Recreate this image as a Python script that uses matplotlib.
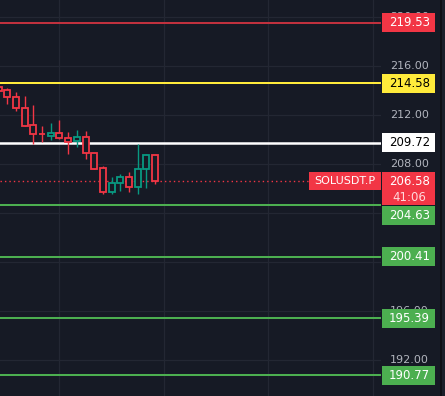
import matplotlib
matplotlib.use("Agg")
import matplotlib.pyplot as plt
from matplotlib.patches import Rectangle

# ---------------- data ----------------
opens = [214.26, 214.02, 213.44, 212.55, 211.16, 210.47, 210.31, 210.53, 210.10, 209.85,
         210.18, 208.87, 207.65, 205.74, 206.42, 206.91, 206.10, 207.57, 208.71]
closes = [213.98, 213.44, 212.55, 211.13, 210.42, 210.43, 210.53, 210.10, 209.82, 210.18,
          208.87, 207.62, 205.74, 206.42, 206.91, 206.10, 207.57, 208.71, 206.58]
highs = [214.40, 214.18, 213.88, 213.55, 212.82, 211.08, 211.37, 211.59, 210.61, 210.78,
         210.69, 208.87, 207.84, 206.91, 207.18, 207.32, 209.63, 208.82, 208.71]
lows = [213.90, 212.92, 212.35, 211.13, 209.63, 209.82, 209.96, 210.07, 208.84, 209.41,
        208.43, 207.62, 205.53, 205.53, 205.82, 205.71, 205.58, 206.02, 206.39]

levels = [219.53, 214.58, 209.72, 204.63, 200.41, 195.39, 190.77]
level_kinds = ["resist", "yellow", "white", "support", "support", "support", "support"]
grid_prices = [220, 216, 212, 208, 204, 200, 196, 192]
price_tick_labels = [220, 216, 212, 208, 196, 192]   # 204 and 200 are hidden behind level boxes
current_price = 206.58
symbol = "SOLUSDT.P"
countdown = "41:06"

# ---------------- style ----------------
BG = "#161a25"
GRID = "#232733"
UP = "#089981"
DOWN = "#f23645"
LINE_COL = {"resist": "#c0313e", "yellow": "#ffeb3b", "white": "#ffffff", "support": "#4caf50"}
BOX_COL = {"resist": "#f23645", "yellow": "#ffeb3b", "white": "#ffffff", "support": "#4caf50"}
TXT_COL = {"resist": "white", "yellow": "black", "white": "black", "support": "white"}
LINE_W = {"resist": 1.45, "yellow": 1.45, "white": 1.8, "support": 1.45}

W, H = 445, 396
PLOT_W = 381
BAR_PX = 8.7
X0 = 0.161
PX_PER_UNIT = 12.25
Y_TOP = 216 + 66 / PX_PER_UNIT
Y_BOT = 216 - (H - 66) / PX_PER_UNIT

fig = plt.figure(figsize=(W / 100, H / 100), dpi=100, facecolor=BG)
ax = fig.add_axes([0, 0, PLOT_W / W, 1])
ax.set_facecolor(BG)
ax.set_xlim(X0, X0 + PLOT_W / BAR_PX)
ax.set_ylim(Y_BOT, Y_TOP)
ax.set_xticks([7, 19, 31, 43])
ax.set_yticks(grid_prices)
ax.grid(True, color=GRID, lw=0.9)
ax.tick_params(length=0, labelbottom=False, labelleft=False)
for s in ax.spines.values():
    s.set_visible(False)

# candles
bw = 6 / BAR_PX
for i, (o, h, l, c) in enumerate(zip(opens, highs, lows, closes)):
    col = UP if c > o else DOWN
    ax.vlines(i, l, h, color=col, lw=1.0, zorder=3)
    lo, hi = min(o, c), max(o, c)
    ax.add_patch(Rectangle((i - bw / 2, lo), bw, max(hi - lo, 0.01), facecolor=BG,
                           edgecolor=col, lw=1.3, zorder=4))

# level lines
for lv, k in zip(levels, level_kinds):
    ax.axhline(lv, color=LINE_COL[k], lw=LINE_W[k], zorder=2)

# current price dotted line + symbol tag
sym_left = X0 + 309 / BAR_PX
x_right = X0 + PLOT_W / BAR_PX
ax.hlines(current_price, X0, sym_left, color=DOWN, lw=1.0, linestyles=(0, (1, 2.2)), zorder=2)
box_h = 19 / PX_PER_UNIT
ax.add_patch(Rectangle((sym_left, current_price - box_h / 2 + 0.05), x_right - sym_left,
                       box_h - 0.05, facecolor=DOWN, edgecolor="none", zorder=6, clip_on=False))
ax.text((sym_left + x_right) / 2, current_price + 0.05, symbol, color="white",
        fontsize=8, ha="center", va="center", zorder=7)

# ---------------- price scale ----------------
ax2 = fig.add_axes([PLOT_W / W, 0, (W - PLOT_W) / W, 1])
ax2.set_facecolor(BG)
ax2.set_xlim(0, W - PLOT_W)
ax2.set_ylim(Y_BOT, Y_TOP)
ax2.axis("off")
ax2.add_patch(Rectangle((0, Y_BOT), W - PLOT_W, Y_TOP - Y_BOT, facecolor=BG, edgecolor="none", zorder=0))
ax2.add_patch(Rectangle((58.5, Y_BOT), 2, Y_TOP - Y_BOT, facecolor="#0e1016", edgecolor="none", zorder=1))
ax2.add_patch(Rectangle((60.5, Y_BOT), 4, Y_TOP - Y_BOT, facecolor="#1b1f2a", edgecolor="none", zorder=1))

BX0, BX1, TXC = 1, 54, 28.5
for t in price_tick_labels:
    ax2.text(TXC, t, f"{t:.2f}", color="#b2b5be", fontsize=8, ha="center", va="center", zorder=2)


def box(center, kind, label, height=box_h):
    ax2.add_patch(Rectangle((BX0, center - height / 2), BX1 - BX0, height,
                            facecolor=BOX_COL[kind], edgecolor="none", zorder=5))
    ax2.text(TXC, center, label, color=TXT_COL[kind], fontsize=8.5, ha="center",
             va="center", zorder=6)


# current price box (two rows)
cur_top = 216 - (171.7 - 66) / PX_PER_UNIT
cur_bot = 216 - (205 - 66) / PX_PER_UNIT
ax2.add_patch(Rectangle((BX0, cur_bot), BX1 - BX0, cur_top - cur_bot, facecolor=DOWN,
                        edgecolor="none", zorder=5))
ax2.text(TXC, current_price, f"{current_price:.2f}", color="white", fontsize=8.5,
         ha="center", va="center", zorder=6)
ax2.text(TXC, 216 - (198 - 66) / PX_PER_UNIT, countdown, color="#ffd9dc", fontsize=8.5,
         ha="center", va="center", zorder=6)

for lv, k in zip(levels, level_kinds):
    c = lv
    if abs(lv - current_price) < 2.5 and lv < current_price:
        c = cur_bot - 0.08 - box_h / 2
    box(c, k, f"{lv:.2f}")

fig.savefig("out.png", dpi=100, facecolor=BG)
